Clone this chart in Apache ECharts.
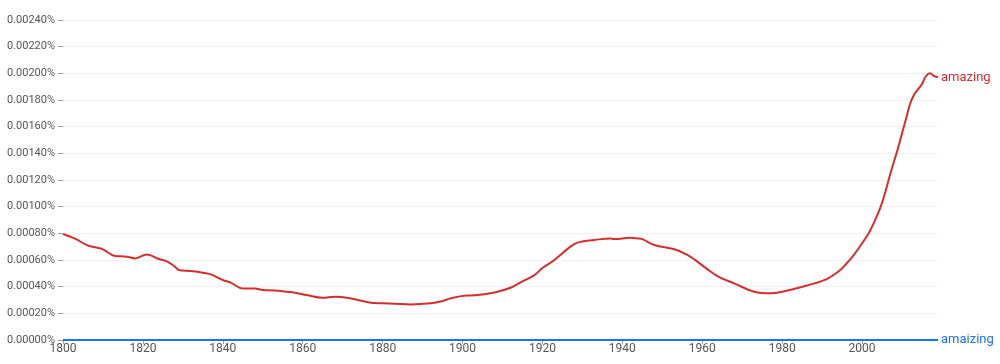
<!DOCTYPE html>
<html>
<head>
<meta charset="utf-8">
<script src="https://cdn.jsdelivr.net/npm/echarts@6/dist/echarts.min.js"></script>
<style>
html,body{margin:0;padding:0;background:#fff;}
#c{width:1000px;height:364px;}
</style>
</head>
<body>
<div id="c"></div>
<script>
const years = [1800,1803,1806,1808,1810,1813,1816,1818,1821,1824,1826,1828,1829,1832,1835,1837,1840,1842,1845,1848,1850,1853,1856,1858,1861,1865,1868,1872,1877,1880,1883,1887,1892,1895,1897,1901,1903,1908,1912,1915,1918,1920,1923,1927,1929,1933,1937,1938,1942,1944,1945,1948,1953,1956,1958,1961,1964,1968,1973,1977,1980,1986,1991,1994,1996,1998,2000,2002,2004,2005,2006,2007,2008,2009,2010,2011,2012,2013,2014,2015,2016,2017,2018,2019];
const amazing = [0.000795,0.00076,0.000712,0.000695,0.00068,0.00063,0.000625,0.000612,0.000642,0.000607,0.00059,0.00055,0.000525,0.000517,0.000505,0.000492,0.00045,0.00043,0.000387,0.000387,0.000375,0.000372,0.000362,0.000355,0.000337,0.000317,0.000325,0.000312,0.00028,0.000275,0.000272,0.000267,0.000275,0.000292,0.000312,0.000333,0.000335,0.000357,0.000392,0.00044,0.000487,0.00054,0.0006,0.0007,0.000732,0.00075,0.000762,0.000757,0.000767,0.000762,0.000757,0.000712,0.00068,0.000642,0.000605,0.000537,0.000475,0.000425,0.000362,0.00035,0.000362,0.000407,0.000455,0.000512,0.00057,0.00064,0.000725,0.00082,0.00095,0.00103,0.00113,0.00124,0.00134,0.00144,0.00155,0.00166,0.00177,0.00184,0.00188,0.00192,0.00198,0.002,0.00198,0.00197];
const amaizing = years.map(() => 0.0000002);
const seriesNames = ['amazing', 'amaizing'];
const xTicks = [1800, 1820, 1840, 1860, 1880, 1900, 1920, 1940, 1960, 1980, 2000];

const chart = echarts.init(document.getElementById('c'));
const pair = arr => years.map((y, i) => [y, arr[i]]);
const colors = ['#d32f2f', '#1a73e8'];
chart.setOption({
  animation: false,
  backgroundColor: '#fff',
  grid: {left: 63, right: 62, top: 20, bottom: 24, containLabel: false},
  xAxis: {
    type: 'value', min: 1800, max: 2019, interval: 20,
    axisLine: {show: true, lineStyle: {color: '#9e9e9e', width: 1}},
    axisTick: {show: true, length: 4, lineStyle: {color: '#9e9e9e'}},
    axisLabel: {
      color: '#555', fontSize: 12, fontFamily: 'Roboto', margin: 3,
      showMaxLabel: false,
      formatter: v => xTicks.includes(v) ? String(v) : ''
    },
    splitLine: {show: false}
  },
  yAxis: {
    type: 'value', min: 0, max: 0.0024, interval: 0.0002,
    axisLine: {show: false},
    axisTick: {show: true, length: 5, lineStyle: {color: '#9e9e9e'}},
    axisLabel: {
      color: '#555', fontSize: 11, fontFamily: 'Roboto', margin: 8,
      formatter: v => v.toFixed(5) + '%'
    },
    splitLine: {show: true, lineStyle: {color: '#f1f1f1', width: 1}}
  },
  series: [
    {
      name: seriesNames[0], type: 'line', data: pair(amazing), smooth: 0.4,
      showSymbol: false, lineStyle: {color: colors[0], width: 2}, itemStyle: {color: colors[0]},
      endLabel: {show: true, formatter: '{a}', color: colors[0], fontSize: 13, fontFamily: 'Roboto', distance: 3}
    },
    {
      name: seriesNames[1], type: 'line', data: pair(amaizing),
      showSymbol: false, lineStyle: {color: colors[1], width: 2}, itemStyle: {color: colors[1]},
      endLabel: {show: true, formatter: '{a}', color: colors[1], fontSize: 13, fontFamily: 'Roboto', distance: 3}
    }
  ]
});
</script>
</body>
</html>
